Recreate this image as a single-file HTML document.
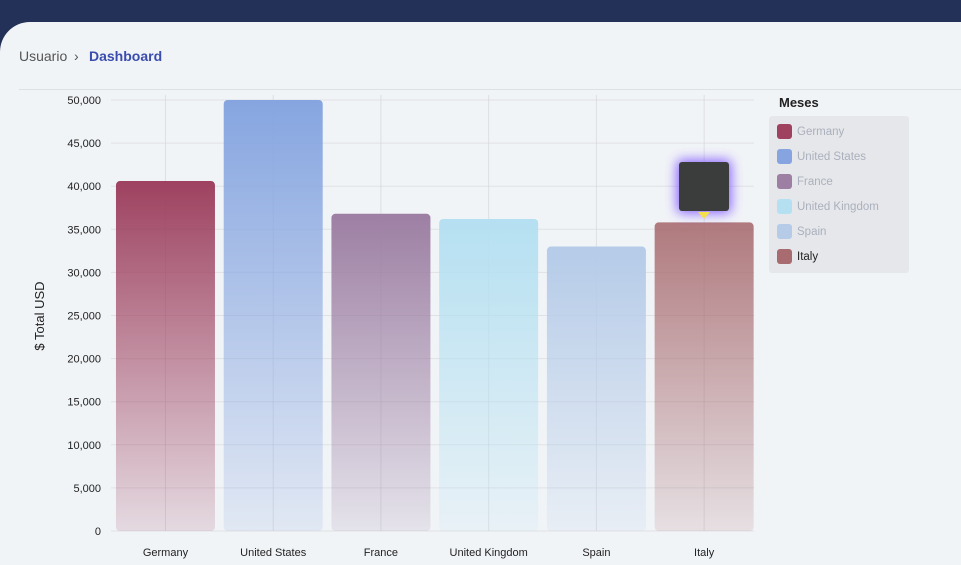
<!DOCTYPE html>
<html><head><meta charset="utf-8"><style>
body{margin:0;width:961px;height:565px;overflow:hidden;background:#233158;font-family:"Liberation Sans",sans-serif;}
#main{position:absolute;left:0;top:22px;width:961px;height:543px;background:#f1f4f7;border-top-left-radius:30px;}
.crumb{position:absolute;top:48px;font-size:14px;}
</style></head><body>
<div id="main"></div>
<div class="crumb" style="left:19px;color:#555">Usuario</div>
<div class="crumb" style="left:74px;color:#555">›</div>
<div class="crumb" style="left:89px;color:#3a4cae;font-weight:bold">Dashboard</div>
<div style="position:absolute;left:19px;top:89px;width:942px;height:1px;background:#dde0e4"></div>
<svg id="chart" width="961" height="565" style="position:absolute;left:0;top:0">
<defs id="defs"><filter id="blur" x="-50%" y="-50%" width="200%" height="200%"><feGaussianBlur stdDeviation="6"/></filter></defs>
<g id="grid"></g><g id="bars"></g><g id="labels"></g>
<text transform="translate(44,316) rotate(-90)" text-anchor="middle" font-size="13" fill="#222">$ Total USD</text>
<g>
<rect x="677" y="160" width="54" height="53" rx="4" fill="#7a4dff" opacity="0.9" filter="url(#blur)"/>
<rect x="679" y="162" width="50" height="49" rx="3" fill="#3b3d3c"/>
<polygon points="698,212 710,212 704,219" fill="#f5e04a"/>
</g>
<text x="779" y="107" font-size="13" font-weight="bold" fill="#222">Meses</text>
<rect x="769" y="116" width="140" height="157" rx="3" fill="#e6e7ea"/>
<g id="legend"></g>
</svg>
<script>
const categories=["Germany","United States","France","United Kingdom","Spain","Italy"];
const values=[40600,50000,36800,36200,33000,35800];
const colors=["#9e4260","#86a5e0","#9d7fa3","#b5e0f1","#b5cbe8","#a86c70"];
const yTicks=[0,5000,10000,15000,20000,25000,30000,35000,40000,45000,50000];
const x0=111.6,x1=758,y0=531,y1=100,yMax=50000;
const band=(x1-x0)/categories.length;
const y=v=>y0-(v/yMax)*(y0-y1);
const xc=i=>x0+band*(i+0.5);
const NS="http://www.w3.org/2000/svg";
const mk=(t,a,p)=>{const e=document.createElementNS(NS,t);for(const k in a)e.setAttribute(k,a[k]);p.appendChild(e);return e;};
const grid=document.getElementById('grid'),bars=document.getElementById('bars'),labels=document.getElementById('labels'),defs=document.getElementById('defs'),legend=document.getElementById('legend');
yTicks.forEach(t=>{
  const l=mk('line',{x1:111,x2:754,y1:y(t),y2:y(t),stroke:'#e0e1e4'},grid);
  
  
  const tx=mk('text',{x:101,y:y(t)+4,'text-anchor':'end','font-size':'11',fill:'#222'},labels);
  tx.textContent=t.toLocaleString('en-US');
  
  
});
categories.forEach((c,i)=>{
  const g=mk('linearGradient',{id:'g'+i,x1:0,y1:0,x2:0,y2:1},defs);
  mk('stop',{offset:0,'stop-color':colors[i],'stop-opacity':i==5?0.9:1},g);
  mk('stop',{offset:1,'stop-color':colors[i],'stop-opacity':0.15},g);
  const r=mk('rect',{x:xc(i)-49.5,y:y(values[i]),width:99,height:y0-y(values[i]),rx:4,fill:'url(#g'+i+')'},bars);
  
  
  const vl=mk('line',{x1:xc(i),x2:xc(i),y1:y1-5,y2:y0,stroke:'#d4d6da','stroke-opacity':0.7},grid);
  
  
  const tx=mk('text',{x:xc(i),y:556,'text-anchor':'middle','font-size':'11',fill:'#222'},labels);
  tx.textContent=c;
  
  
  const ly=124+i*25;
  const sw=mk('rect',{x:777,y:ly,width:15,height:15,rx:3,fill:colors[i]},legend);
  
  
  const lt=mk('text',{x:797,y:ly+11,'font-size':'11.5',fill:i==5?'#222':'#aab0bd'},legend);
  lt.textContent=c;
  
  
});
</script>
</body></html>
